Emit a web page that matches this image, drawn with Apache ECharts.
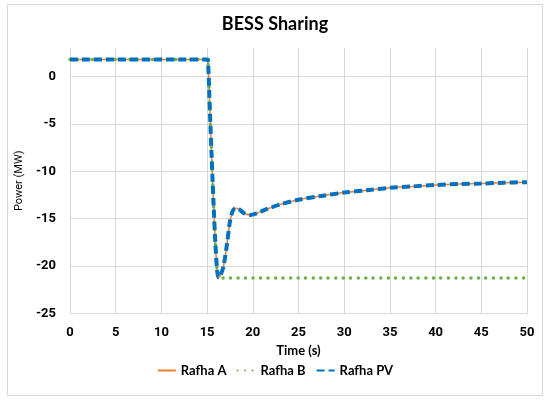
<!DOCTYPE html>
<html>
<head>
<meta charset="utf-8">
<script src="https://cdn.jsdelivr.net/npm/echarts@6/dist/echarts.min.js"></script>
<style>html,body{margin:0;padding:0;background:#fff}#c{width:550px;height:402px}</style>
</head>
<body>
<div id="c"></div>
<script>
const time = [0, 15, 15.1, 15.3, 15.5, 15.7, 15.9, 16.1, 16.25, 16.45, 16.8, 17.2, 17.5, 17.8, 18.1, 18.5, 19.0, 19.7, 20.5, 21.5, 23, 25, 27.5, 30, 32.5, 35, 37.5, 40, 42.5, 45, 47.5, 50];
const rafhaA = [1.8, 1.8, 1.7, -3.5, -8.5, -13.3, -17.5, -20.5, -21.2, -21.0, -20.0, -17.5, -15.3, -14.2, -13.9, -14.0, -14.4, -14.6, -14.4, -14.0, -13.5, -13.0, -12.6, -12.25, -12.0, -11.75, -11.6, -11.45, -11.35, -11.3, -11.2, -11.15];
const rafhaB = [1.8, 1.8, 1.7, -3.5, -8.5, -13.3, -17.5, -20.5, -21.2, -21.25, -21.25, -21.25, -21.25, -21.25, -21.25, -21.25, -21.25, -21.25, -21.25, -21.25, -21.25, -21.25, -21.25, -21.25, -21.25, -21.25, -21.25, -21.25, -21.25, -21.25, -21.25, -21.25];
const rafhaPV = rafhaA.slice();
const xTicks = [0, 5, 10, 15, 20, 25, 30, 35, 40, 45, 50];
const yTicks = [-25, -20, -15, -10, -5, 0];

const pairs = (ys) => time.map((t, i) => [t, ys[i]]);
const font = 'Roboto';
const chart = echarts.init(document.getElementById('c'));
chart.setOption({
  backgroundColor: '#fff',
  animation: false,
  graphic: [{
    type: 'rect', left: 7, top: 4, z: -1,
    shape: { width: 535, height: 391 },
    style: { fill: '#fff', stroke: '#d9d9d9', lineWidth: 1 }
  }],
  title: {
    text: 'BESS Sharing', left: 'center', top: 10,
    textStyle: { fontFamily: 'Lato', fontWeight: 'bold', fontSize: 18, color: '#000' }
  },
  grid: { left: 70, right: 23, top: 48, bottom: 88.5, containLabel: false },
  legend: {
    bottom: 20, left: 'center', itemWidth: 18, itemHeight: 10, itemGap: 10,
    itemStyle: { opacity: 0 },
    textStyle: { fontFamily: 'Lato', fontWeight: 'bold', fontSize: 13, color: '#000' },
    data: ['Rafha A', 'Rafha B', 'Rafha PV']
  },
  xAxis: {
    type: 'value', min: xTicks[0], max: xTicks[xTicks.length - 1], interval: 5,
    name: 'Time (s)', nameLocation: 'middle', nameGap: 29,
    nameTextStyle: { fontFamily: 'Lato', fontWeight: 'bold', fontSize: 13, color: '#000' },
    axisLine: { show: false }, axisTick: { show: false },
    axisLabel: { margin: 13, fontFamily: font, fontWeight: 'bold', fontSize: 13, color: '#000' },
    splitLine: { show: true, lineStyle: { color: '#d9d9d9', width: 1 } }
  },
  yAxis: {
    type: 'value', min: yTicks[0], max: 3, interval: 5,
    name: 'Power (MW)', nameLocation: 'middle', nameGap: 42,
    nameTextStyle: { fontFamily: font, fontSize: 11, color: '#000' },
    axisLine: { show: false }, axisTick: { show: false },
    axisLabel: {
      margin: 14, fontFamily: font, fontWeight: 'bold', fontSize: 13, color: '#000',
      showMaxLabel: false,
      formatter: (v) => (v % 5 === 0 ? String(v) : '')
    },
    splitLine: { show: true, showMaxLine: false, lineStyle: { color: '#d9d9d9', width: 1 } }
  },
  series: [
    {
      name: 'Rafha A', type: 'line', data: pairs(rafhaA), smooth: 0.3, symbol: 'none', z: 2,
      itemStyle: { color: '#ED7D31' },
      lineStyle: { color: '#ED7D31', width: 1.5 }
    },
    {
      name: 'Rafha B', type: 'line', data: pairs(rafhaB), smooth: 0.3, symbol: 'none', z: 3,
      itemStyle: { color: '#70AD47' },
      lineStyle: { color: '#70AD47', width: 3.5, type: [0.01, 7.5], cap: 'round' }
    },
    {
      name: 'Rafha PV', type: 'line', data: pairs(rafhaPV), smooth: 0.3, symbol: 'none', z: 4,
      itemStyle: { color: '#0070C0' },
      lineStyle: { color: '#0070C0', width: 4, type: [8, 4] }
    }
  ]
});
</script>
</body>
</html>
